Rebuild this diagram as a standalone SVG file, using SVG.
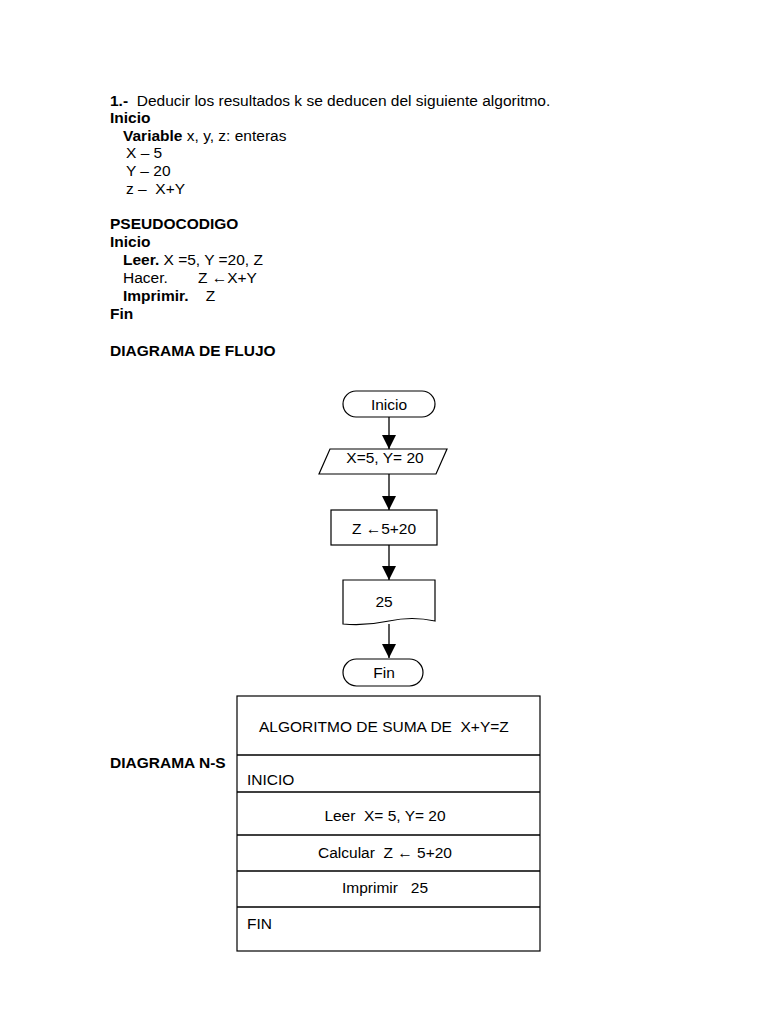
<svg xmlns="http://www.w3.org/2000/svg" width="768" height="1024" viewBox="0 0 768 1024">
<defs>
<style>
text{font-family:"Liberation Sans",Arial,sans-serif;font-size:15.5px;fill:#000;white-space:pre}
.b{font-weight:bold}
.s{fill:#fff;stroke:#000;stroke-width:1.2}
.c{stroke:#000;stroke-width:1.3;fill:none}
</style>
<marker id="a" viewBox="0 0 10 10" refX="10" refY="5" markerWidth="14" markerHeight="14" markerUnits="userSpaceOnUse" orient="auto"><path d="M0,0L10,5L0,10z" fill="#000"/></marker>
</defs>
<rect width="768" height="1024" fill="#fff"/>
<text x="110" y="106" xml:space="preserve"><tspan class="b">1.-</tspan>  Deducir los resultados k se deducen del siguiente algoritmo.</text>
<text x="110" y="123" class="b">Inicio</text>
<text x="123" y="141" xml:space="preserve"><tspan class="b">Variable</tspan> x, y, z: enteras</text>
<text x="126" y="158">X – 5</text>
<text x="126" y="176">Y – 20</text>
<text x="126" y="194" xml:space="preserve">z –  X+Y</text>
<text x="110" y="229" class="b">PSEUDOCODIGO</text>
<text x="110" y="247" class="b">Inicio</text>
<text x="123" y="265" xml:space="preserve"><tspan class="b">Leer.</tspan> X =5, Y =20, Z</text>
<text x="123" y="283" xml:space="preserve">Hacer.       Z ←X+Y</text>
<text x="123" y="301" xml:space="preserve"><tspan class="b">Imprimir.</tspan>    Z</text>
<text x="110" y="319" class="b">Fin</text>
<text x="110" y="356" class="b">DIAGRAMA DE FLUJO</text>
<text x="110" y="768" class="b">DIAGRAMA N-S</text>
<g id="connectors">
<line class="c" x1="389" y1="417" x2="389" y2="449" marker-end="url(#a)"/>
<line class="c" x1="389" y1="474" x2="389" y2="510" marker-end="url(#a)"/>
<line class="c" x1="389" y1="545" x2="389" y2="580" marker-end="url(#a)"/>
<line class="c" x1="389" y1="624" x2="389" y2="658" marker-end="url(#a)"/>
</g>
<g id="inicio"><rect class="s" x="343" y="391" width="92" height="26" rx="13"/><text x="389" y="410" text-anchor="middle">Inicio</text></g>
<g id="leer"><polygon class="s" points="330,449 447,449 436,474 319,474"/><text x="385" y="463" text-anchor="middle">X=5, Y= 20</text></g>
<g id="calc"><rect class="s" x="331" y="510" width="106" height="35"/><text x="384" y="534" text-anchor="middle" xml:space="preserve">Z ←5+20</text></g>
<g id="out"><path class="s" d="M343,580H435V621Q412,616 389,621T343,624Z"/><text x="384" y="607" text-anchor="middle">25</text></g>
<g id="fin"><rect class="s" x="343" y="659" width="80" height="27" rx="13.5"/><text x="384" y="678" text-anchor="middle">Fin</text></g>
<g id="ns">
<rect class="s" x="237" y="696" width="303" height="255"/>
<path class="c" d="M237,755H540M237,792H540M237,835H540M237,871H540M237,907H540"/>
<text x="259" y="732" xml:space="preserve">ALGORITMO DE SUMA DE  X+Y=Z</text>
<text x="247" y="785">INICIO</text>
<text x="385" y="821" text-anchor="middle" xml:space="preserve">Leer  X= 5, Y= 20</text>
<text x="385" y="858" text-anchor="middle" xml:space="preserve">Calcular  Z ← 5+20</text>
<text x="385" y="893" text-anchor="middle" xml:space="preserve">Imprimir   25</text>
<text x="247" y="929">FIN</text>
</g>
</svg>
